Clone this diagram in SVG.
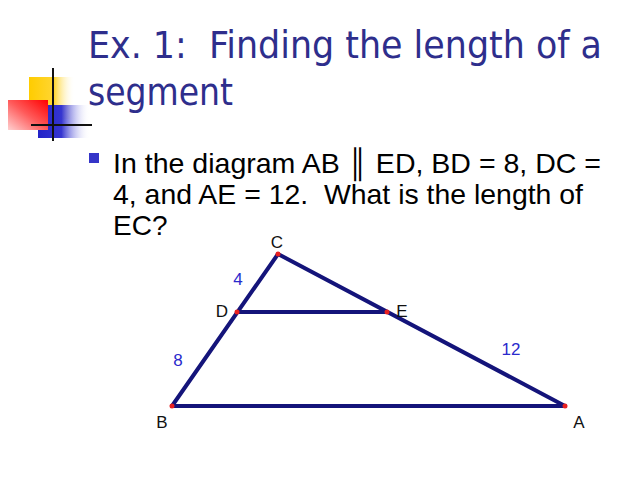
<svg xmlns="http://www.w3.org/2000/svg" width="638" height="478" viewBox="0 0 638 478">
<defs>
<linearGradient id="gy" x1="0" y1="0" x2="1" y2="0"><stop offset="0" stop-color="#ffcc00"/><stop offset="0.55" stop-color="#ffd633"/><stop offset="1" stop-color="#ffffff" stop-opacity="0"/></linearGradient>
<linearGradient id="gr" x1="1" y1="0" x2="0" y2="1"><stop offset="0" stop-color="#ff0000"/><stop offset="0.5" stop-color="#ff5a5a"/><stop offset="1" stop-color="#ffd0d0"/></linearGradient>
<linearGradient id="gb" x1="0" y1="0" x2="1" y2="0"><stop offset="0" stop-color="#2323c8"/><stop offset="0.45" stop-color="#3535d0"/><stop offset="1" stop-color="#ffffff" stop-opacity="0"/></linearGradient>
<style>
text{white-space:pre}
.title{font-family:"DejaVu Sans Condensed","DejaVu Sans","Liberation Sans",sans-serif;font-size:37px;fill:#2e2e8c}
.body{font-family:"Liberation Sans",Arial,sans-serif;font-size:28px;fill:#000}
.lbl{font-family:"Liberation Sans",Arial,sans-serif;font-size:17px;fill:#111;text-anchor:middle}
.num{font-family:"Liberation Sans",Arial,sans-serif;font-size:17px;fill:#2a2acc;text-anchor:middle}
.seg{stroke:#14147a;stroke-width:4;stroke-linecap:round;fill:none}
.pt{fill:#e82020}
</style>
</defs>
<rect width="638" height="478" fill="#ffffff"/>
<g id="logo">
<rect x="29" y="77" width="46" height="42" fill="url(#gy)"/>
<rect x="38" y="105" width="52" height="33" fill="url(#gb)"/>
<rect x="8" y="100" width="40" height="30" fill="url(#gr)"/>
<line x1="53" y1="68" x2="53" y2="141" stroke="#111" stroke-width="2"/>
<line x1="31" y1="125" x2="92" y2="125" stroke="#111" stroke-width="2"/>
</g>
<g id="title">
<text class="title" x="88" y="58" xml:space="preserve" textLength="514" lengthAdjust="spacingAndGlyphs">Ex. 1:  Finding the length of a</text>
<text class="title" x="88" y="105" textLength="145" lengthAdjust="spacingAndGlyphs">segment</text>
</g>
<g id="bullet">
<rect x="89" y="153" width="10" height="10" fill="#3535c8"/>
<text class="body" x="113" y="173" textLength="488" lengthAdjust="spacingAndGlyphs">In the diagram AB ║ ED, BD = 8, DC =</text>
<text class="body" x="113" y="204" xml:space="preserve" textLength="470" lengthAdjust="spacingAndGlyphs">4, and AE = 12.  What is the length of</text>
<text class="body" x="113" y="235">EC?</text>
</g>
<g id="connectors">
<line class="seg" x1="172" y1="406" x2="565" y2="406"/>
<line class="seg" x1="172" y1="406" x2="278" y2="254"/>
<line class="seg" x1="278" y1="254" x2="565" y2="406"/>
<line class="seg" x1="237" y1="312" x2="387" y2="312"/>
</g>
<g id="node-C"><circle class="pt" cx="278" cy="254" r="2.5"/><text class="lbl" x="277" y="248">C</text></g>
<g id="node-D"><circle class="pt" cx="237" cy="312" r="2.5"/><text class="lbl" x="222" y="317">D</text></g>
<g id="node-E"><circle class="pt" cx="387" cy="312" r="2.5"/><text class="lbl" x="402" y="317">E</text></g>
<g id="node-B"><circle class="pt" cx="172" cy="406" r="2.5"/><text class="lbl" x="162" y="428">B</text></g>
<g id="node-A"><circle class="pt" cx="565" cy="406" r="2.5"/><text class="lbl" x="579" y="428">A</text></g>
<g id="labels">
<text class="num" x="238" y="285">4</text>
<text class="num" x="178" y="366">8</text>
<text class="num" x="511" y="355">12</text>
</g>
</svg>
